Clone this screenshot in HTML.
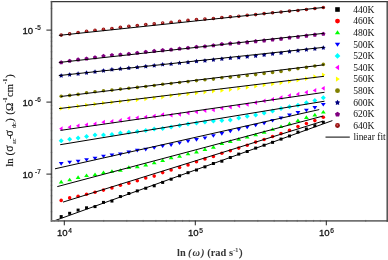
<!DOCTYPE html>
<html><head><meta charset="utf-8"><style>html,body{margin:0;padding:0;background:#fff;width:388px;height:260px;overflow:hidden}svg{display:block;filter:blur(0.3px)}</style></head><body>
<svg width="388" height="260" viewBox="0 0 388 260">
<defs><radialGradient id="sph" cx="0.45" cy="0.4" r="0.62"><stop offset="0" stop-color="#d89090"/><stop offset="0.35" stop-color="#a81818"/><stop offset="1" stop-color="#780000"/></radialGradient></defs>
<rect width="388" height="260" fill="#fff"/>
<rect x="59.70" y="215.10" width="3.00" height="3.00" fill="#000000"/>
<rect x="68.16" y="211.80" width="3.00" height="3.00" fill="#000000"/>
<rect x="76.61" y="208.60" width="3.00" height="3.00" fill="#000000"/>
<rect x="85.06" y="206.30" width="3.00" height="3.00" fill="#000000"/>
<rect x="93.52" y="205.10" width="3.00" height="3.00" fill="#000000"/>
<rect x="101.97" y="200.90" width="3.00" height="3.00" fill="#000000"/>
<rect x="110.43" y="199.55" width="3.00" height="3.00" fill="#000000"/>
<rect x="118.89" y="195.05" width="3.00" height="3.00" fill="#000000"/>
<rect x="127.34" y="192.00" width="3.00" height="3.00" fill="#000000"/>
<rect x="135.80" y="189.40" width="3.00" height="3.00" fill="#000000"/>
<rect x="144.25" y="186.75" width="3.00" height="3.00" fill="#000000"/>
<rect x="152.70" y="184.30" width="3.00" height="3.00" fill="#000000"/>
<rect x="161.16" y="180.90" width="3.00" height="3.00" fill="#000000"/>
<rect x="169.62" y="177.70" width="3.00" height="3.00" fill="#000000"/>
<rect x="178.07" y="174.30" width="3.00" height="3.00" fill="#000000"/>
<rect x="186.53" y="171.20" width="3.00" height="3.00" fill="#000000"/>
<rect x="194.98" y="168.50" width="3.00" height="3.00" fill="#000000"/>
<rect x="203.44" y="165.35" width="3.00" height="3.00" fill="#000000"/>
<rect x="211.89" y="162.00" width="3.00" height="3.00" fill="#000000"/>
<rect x="220.35" y="159.70" width="3.00" height="3.00" fill="#000000"/>
<rect x="228.80" y="156.00" width="3.00" height="3.00" fill="#000000"/>
<rect x="237.25" y="152.60" width="3.00" height="3.00" fill="#000000"/>
<rect x="245.71" y="150.00" width="3.00" height="3.00" fill="#000000"/>
<rect x="254.17" y="146.60" width="3.00" height="3.00" fill="#000000"/>
<rect x="262.62" y="143.70" width="3.00" height="3.00" fill="#000000"/>
<rect x="271.07" y="140.85" width="3.00" height="3.00" fill="#000000"/>
<rect x="279.53" y="137.60" width="3.00" height="3.00" fill="#000000"/>
<rect x="287.99" y="134.50" width="3.00" height="3.00" fill="#000000"/>
<rect x="296.44" y="130.60" width="3.00" height="3.00" fill="#000000"/>
<rect x="304.89" y="127.50" width="3.00" height="3.00" fill="#000000"/>
<rect x="313.35" y="124.20" width="3.00" height="3.00" fill="#000000"/>
<rect x="321.81" y="120.80" width="3.00" height="3.00" fill="#000000"/>
<circle cx="61.20" cy="200.40" r="1.78" fill="#ff0000"/>
<circle cx="69.66" cy="197.90" r="1.78" fill="#ff0000"/>
<circle cx="78.11" cy="196.30" r="1.78" fill="#ff0000"/>
<circle cx="86.56" cy="194.20" r="1.78" fill="#ff0000"/>
<circle cx="95.02" cy="192.30" r="1.78" fill="#ff0000"/>
<circle cx="103.47" cy="190.10" r="1.78" fill="#ff0000"/>
<circle cx="111.93" cy="187.90" r="1.78" fill="#ff0000"/>
<circle cx="120.39" cy="185.30" r="1.78" fill="#ff0000"/>
<circle cx="128.84" cy="183.20" r="1.78" fill="#ff0000"/>
<circle cx="137.30" cy="180.70" r="1.78" fill="#ff0000"/>
<circle cx="145.75" cy="178.05" r="1.78" fill="#ff0000"/>
<circle cx="154.20" cy="176.10" r="1.78" fill="#ff0000"/>
<circle cx="162.66" cy="172.60" r="1.78" fill="#ff0000"/>
<circle cx="171.12" cy="170.00" r="1.78" fill="#ff0000"/>
<circle cx="179.57" cy="167.50" r="1.78" fill="#ff0000"/>
<circle cx="188.03" cy="164.90" r="1.78" fill="#ff0000"/>
<circle cx="196.48" cy="161.75" r="1.78" fill="#ff0000"/>
<circle cx="204.94" cy="158.90" r="1.78" fill="#ff0000"/>
<circle cx="213.39" cy="156.50" r="1.78" fill="#ff0000"/>
<circle cx="221.85" cy="153.20" r="1.78" fill="#ff0000"/>
<circle cx="230.30" cy="150.70" r="1.78" fill="#ff0000"/>
<circle cx="238.75" cy="148.10" r="1.78" fill="#ff0000"/>
<circle cx="247.21" cy="145.20" r="1.78" fill="#ff0000"/>
<circle cx="255.67" cy="142.10" r="1.78" fill="#ff0000"/>
<circle cx="264.12" cy="139.55" r="1.78" fill="#ff0000"/>
<circle cx="272.57" cy="136.55" r="1.78" fill="#ff0000"/>
<circle cx="281.03" cy="133.60" r="1.78" fill="#ff0000"/>
<circle cx="289.49" cy="130.40" r="1.78" fill="#ff0000"/>
<circle cx="297.94" cy="126.50" r="1.78" fill="#ff0000"/>
<circle cx="306.39" cy="123.50" r="1.78" fill="#ff0000"/>
<circle cx="314.85" cy="120.60" r="1.78" fill="#ff0000"/>
<circle cx="323.31" cy="117.20" r="1.78" fill="#ff0000"/>
<path d="M61.20 179.86L63.62 183.43L58.79 183.43Z" fill="#00ff00"/>
<path d="M69.66 177.66L72.07 181.23L67.24 181.23Z" fill="#00ff00"/>
<path d="M78.11 175.36L80.53 178.93L75.69 178.93Z" fill="#00ff00"/>
<path d="M86.56 173.46L88.98 177.03L84.15 177.03Z" fill="#00ff00"/>
<path d="M95.02 172.46L97.44 176.03L92.61 176.03Z" fill="#00ff00"/>
<path d="M103.47 170.46L105.89 174.03L101.06 174.03Z" fill="#00ff00"/>
<path d="M111.93 169.16L114.35 172.73L109.52 172.73Z" fill="#00ff00"/>
<path d="M120.39 168.26L122.80 171.83L117.97 171.83Z" fill="#00ff00"/>
<path d="M128.84 165.36L131.25 168.93L126.42 168.93Z" fill="#00ff00"/>
<path d="M137.30 164.56L139.71 168.13L134.88 168.13Z" fill="#00ff00"/>
<path d="M145.75 162.86L148.16 166.43L143.34 166.43Z" fill="#00ff00"/>
<path d="M154.20 160.66L156.62 164.23L151.79 164.23Z" fill="#00ff00"/>
<path d="M162.66 158.36L165.08 161.93L160.25 161.93Z" fill="#00ff00"/>
<path d="M171.12 155.56L173.53 159.13L168.70 159.13Z" fill="#00ff00"/>
<path d="M179.57 154.06L181.98 157.63L177.16 157.63Z" fill="#00ff00"/>
<path d="M188.03 151.76L190.44 155.33L185.61 155.33Z" fill="#00ff00"/>
<path d="M196.48 149.86L198.90 153.43L194.07 153.43Z" fill="#00ff00"/>
<path d="M204.94 147.36L207.35 150.93L202.52 150.93Z" fill="#00ff00"/>
<path d="M213.39 145.06L215.80 148.63L210.97 148.63Z" fill="#00ff00"/>
<path d="M221.85 141.36L224.26 144.93L219.43 144.93Z" fill="#00ff00"/>
<path d="M230.30 139.36L232.72 142.93L227.89 142.93Z" fill="#00ff00"/>
<path d="M238.75 137.06L241.17 140.63L236.34 140.63Z" fill="#00ff00"/>
<path d="M247.21 134.96L249.62 138.53L244.79 138.53Z" fill="#00ff00"/>
<path d="M255.67 132.76L258.08 136.33L253.25 136.33Z" fill="#00ff00"/>
<path d="M264.12 130.06L266.54 133.63L261.70 133.63Z" fill="#00ff00"/>
<path d="M272.57 127.26L274.99 130.83L270.16 130.83Z" fill="#00ff00"/>
<path d="M281.03 124.46L283.45 128.03L278.62 128.03Z" fill="#00ff00"/>
<path d="M289.49 121.56L291.90 125.13L287.07 125.13Z" fill="#00ff00"/>
<path d="M297.94 118.46L300.36 122.03L295.52 122.03Z" fill="#00ff00"/>
<path d="M306.39 115.36L308.81 118.93L303.98 118.93Z" fill="#00ff00"/>
<path d="M314.85 112.86L317.27 116.43L312.44 116.43Z" fill="#00ff00"/>
<path d="M323.31 109.96L325.72 113.53L320.89 113.53Z" fill="#00ff00"/>
<path d="M61.20 165.64L63.62 162.07L58.79 162.07Z" fill="#0000ff"/>
<path d="M69.66 164.24L72.07 160.67L67.24 160.67Z" fill="#0000ff"/>
<path d="M78.11 163.34L80.53 159.77L75.69 159.77Z" fill="#0000ff"/>
<path d="M86.56 161.74L88.98 158.17L84.15 158.17Z" fill="#0000ff"/>
<path d="M95.02 160.44L97.44 156.87L92.61 156.87Z" fill="#0000ff"/>
<path d="M103.47 158.34L105.89 154.77L101.06 154.77Z" fill="#0000ff"/>
<path d="M111.93 157.04L114.35 153.47L109.52 153.47Z" fill="#0000ff"/>
<path d="M120.39 156.14L122.80 152.57L117.97 152.57Z" fill="#0000ff"/>
<path d="M128.84 154.14L131.25 150.57L126.42 150.57Z" fill="#0000ff"/>
<path d="M137.30 152.44L139.71 148.87L134.88 148.87Z" fill="#0000ff"/>
<path d="M145.75 151.44L148.16 147.87L143.34 147.87Z" fill="#0000ff"/>
<path d="M154.20 149.74L156.62 146.17L151.79 146.17Z" fill="#0000ff"/>
<path d="M162.66 148.04L165.08 144.47L160.25 144.47Z" fill="#0000ff"/>
<path d="M171.12 146.94L173.53 143.37L168.70 143.37Z" fill="#0000ff"/>
<path d="M179.57 145.04L181.98 141.47L177.16 141.47Z" fill="#0000ff"/>
<path d="M188.03 143.14L190.44 139.57L185.61 139.57Z" fill="#0000ff"/>
<path d="M196.48 141.64L198.90 138.07L194.07 138.07Z" fill="#0000ff"/>
<path d="M204.94 140.04L207.35 136.47L202.52 136.47Z" fill="#0000ff"/>
<path d="M213.39 137.74L215.80 134.17L210.97 134.17Z" fill="#0000ff"/>
<path d="M221.85 135.64L224.26 132.07L219.43 132.07Z" fill="#0000ff"/>
<path d="M230.30 133.24L232.72 129.67L227.89 129.67Z" fill="#0000ff"/>
<path d="M238.75 131.44L241.17 127.87L236.34 127.87Z" fill="#0000ff"/>
<path d="M247.21 129.34L249.62 125.77L244.79 125.77Z" fill="#0000ff"/>
<path d="M255.67 127.34L258.08 123.77L253.25 123.77Z" fill="#0000ff"/>
<path d="M264.12 125.24L266.54 121.67L261.70 121.67Z" fill="#0000ff"/>
<path d="M272.57 122.54L274.99 118.97L270.16 118.97Z" fill="#0000ff"/>
<path d="M281.03 120.04L283.45 116.47L278.62 116.47Z" fill="#0000ff"/>
<path d="M289.49 117.14L291.90 113.57L287.07 113.57Z" fill="#0000ff"/>
<path d="M297.94 114.64L300.36 111.07L295.52 111.07Z" fill="#0000ff"/>
<path d="M306.39 112.34L308.81 108.77L303.98 108.77Z" fill="#0000ff"/>
<path d="M314.85 109.64L317.27 106.07L312.44 106.07Z" fill="#0000ff"/>
<path d="M323.31 106.54L325.72 102.97L320.89 102.97Z" fill="#0000ff"/>
<path d="M61.20 138.32L63.68 140.80L61.20 143.28L58.72 140.80Z" fill="#00ffff"/>
<path d="M69.66 136.82L72.14 139.30L69.66 141.78L67.17 139.30Z" fill="#00ffff"/>
<path d="M78.11 135.42L80.59 137.90L78.11 140.38L75.63 137.90Z" fill="#00ffff"/>
<path d="M86.56 133.92L89.05 136.40L86.56 138.88L84.08 136.40Z" fill="#00ffff"/>
<path d="M95.02 132.52L97.50 135.00L95.02 137.48L92.54 135.00Z" fill="#00ffff"/>
<path d="M103.47 132.52L105.95 135.00L103.47 137.48L100.99 135.00Z" fill="#00ffff"/>
<path d="M111.93 132.02L114.41 134.50L111.93 136.98L109.45 134.50Z" fill="#00ffff"/>
<path d="M120.39 130.62L122.87 133.10L120.39 135.58L117.91 133.10Z" fill="#00ffff"/>
<path d="M128.84 129.72L131.32 132.20L128.84 134.68L126.36 132.20Z" fill="#00ffff"/>
<path d="M137.30 129.12L139.78 131.60L137.30 134.08L134.82 131.60Z" fill="#00ffff"/>
<path d="M145.75 128.02L148.23 130.50L145.75 132.98L143.27 130.50Z" fill="#00ffff"/>
<path d="M154.20 126.52L156.68 129.00L154.20 131.48L151.72 129.00Z" fill="#00ffff"/>
<path d="M162.66 126.02L165.14 128.50L162.66 130.98L160.18 128.50Z" fill="#00ffff"/>
<path d="M171.12 124.52L173.59 127.00L171.12 129.48L168.64 127.00Z" fill="#00ffff"/>
<path d="M179.57 122.92L182.05 125.40L179.57 127.88L177.09 125.40Z" fill="#00ffff"/>
<path d="M188.03 121.62L190.50 124.10L188.03 126.58L185.55 124.10Z" fill="#00ffff"/>
<path d="M196.48 120.62L198.96 123.10L196.48 125.58L194.00 123.10Z" fill="#00ffff"/>
<path d="M204.94 119.52L207.41 122.00L204.94 124.48L202.46 122.00Z" fill="#00ffff"/>
<path d="M213.39 118.52L215.87 121.00L213.39 123.48L210.91 121.00Z" fill="#00ffff"/>
<path d="M221.85 117.92L224.33 120.40L221.85 122.88L219.37 120.40Z" fill="#00ffff"/>
<path d="M230.30 117.62L232.78 120.10L230.30 122.58L227.82 120.10Z" fill="#00ffff"/>
<path d="M238.75 115.42L241.23 117.90L238.75 120.38L236.28 117.90Z" fill="#00ffff"/>
<path d="M247.21 113.72L249.69 116.20L247.21 118.68L244.73 116.20Z" fill="#00ffff"/>
<path d="M255.67 112.52L258.15 115.00L255.67 117.48L253.19 115.00Z" fill="#00ffff"/>
<path d="M264.12 110.62L266.60 113.10L264.12 115.58L261.64 113.10Z" fill="#00ffff"/>
<path d="M272.57 108.62L275.06 111.10L272.57 113.58L270.09 111.10Z" fill="#00ffff"/>
<path d="M281.03 106.02L283.51 108.50L281.03 110.98L278.55 108.50Z" fill="#00ffff"/>
<path d="M289.49 104.22L291.97 106.70L289.49 109.18L287.00 106.70Z" fill="#00ffff"/>
<path d="M297.94 102.72L300.42 105.20L297.94 107.68L295.46 105.20Z" fill="#00ffff"/>
<path d="M306.39 100.22L308.88 102.70L306.39 105.18L303.91 102.70Z" fill="#00ffff"/>
<path d="M314.85 97.92L317.33 100.40L314.85 102.88L312.37 100.40Z" fill="#00ffff"/>
<path d="M323.31 95.22L325.79 97.70L323.31 100.18L320.82 97.70Z" fill="#00ffff"/>
<path d="M59.11 128.70L62.59 126.34L62.59 131.06Z" fill="#ff00ff"/>
<path d="M67.56 127.20L71.05 124.84L71.05 129.56Z" fill="#ff00ff"/>
<path d="M76.02 125.80L79.50 123.44L79.50 128.16Z" fill="#ff00ff"/>
<path d="M84.47 124.80L87.96 122.44L87.96 127.16Z" fill="#ff00ff"/>
<path d="M92.93 123.90L96.41 121.54L96.41 126.26Z" fill="#ff00ff"/>
<path d="M101.38 122.20L104.87 119.84L104.87 124.56Z" fill="#ff00ff"/>
<path d="M109.84 121.40L113.32 119.04L113.32 123.76Z" fill="#ff00ff"/>
<path d="M118.29 120.40L121.78 118.04L121.78 122.76Z" fill="#ff00ff"/>
<path d="M126.75 118.30L130.23 115.94L130.23 120.66Z" fill="#ff00ff"/>
<path d="M135.20 117.80L138.69 115.44L138.69 120.16Z" fill="#ff00ff"/>
<path d="M143.66 117.00L147.14 114.64L147.14 119.36Z" fill="#ff00ff"/>
<path d="M152.11 116.10L155.60 113.74L155.60 118.46Z" fill="#ff00ff"/>
<path d="M160.57 114.60L164.05 112.24L164.05 116.96Z" fill="#ff00ff"/>
<path d="M169.02 115.20L172.51 112.84L172.51 117.56Z" fill="#ff00ff"/>
<path d="M177.48 114.30L180.96 111.94L180.96 116.66Z" fill="#ff00ff"/>
<path d="M185.93 112.90L189.42 110.54L189.42 115.26Z" fill="#ff00ff"/>
<path d="M194.39 112.00L197.87 109.64L197.87 114.36Z" fill="#ff00ff"/>
<path d="M202.84 110.60L206.33 108.24L206.33 112.96Z" fill="#ff00ff"/>
<path d="M211.30 110.00L214.78 107.64L214.78 112.36Z" fill="#ff00ff"/>
<path d="M219.75 108.25L223.24 105.89L223.24 110.61Z" fill="#ff00ff"/>
<path d="M228.21 107.10L231.69 104.74L231.69 109.46Z" fill="#ff00ff"/>
<path d="M236.66 105.85L240.15 103.49L240.15 108.21Z" fill="#ff00ff"/>
<path d="M245.12 104.50L248.60 102.14L248.60 106.86Z" fill="#ff00ff"/>
<path d="M253.57 102.65L257.06 100.29L257.06 105.01Z" fill="#ff00ff"/>
<path d="M262.03 100.95L265.51 98.59L265.51 103.31Z" fill="#ff00ff"/>
<path d="M270.48 99.30L273.97 96.94L273.97 101.66Z" fill="#ff00ff"/>
<path d="M278.94 97.60L282.42 95.24L282.42 99.96Z" fill="#ff00ff"/>
<path d="M287.39 95.60L290.88 93.24L290.88 97.96Z" fill="#ff00ff"/>
<path d="M295.85 94.20L299.33 91.84L299.33 96.56Z" fill="#ff00ff"/>
<path d="M304.30 92.30L307.79 89.94L307.79 94.66Z" fill="#ff00ff"/>
<path d="M312.76 90.40L316.24 88.04L316.24 92.76Z" fill="#ff00ff"/>
<path d="M321.21 88.30L324.70 85.94L324.70 90.66Z" fill="#ff00ff"/>
<path d="M63.29 108.50L59.81 106.14L59.81 110.86Z" fill="#ffff00"/>
<path d="M71.75 107.50L68.26 105.14L68.26 109.86Z" fill="#ffff00"/>
<path d="M80.20 106.20L76.72 103.84L76.72 108.56Z" fill="#ffff00"/>
<path d="M88.66 105.00L85.17 102.64L85.17 107.36Z" fill="#ffff00"/>
<path d="M97.11 104.10L93.63 101.74L93.63 106.46Z" fill="#ffff00"/>
<path d="M105.57 103.00L102.08 100.64L102.08 105.36Z" fill="#ffff00"/>
<path d="M114.02 102.30L110.54 99.94L110.54 104.66Z" fill="#ffff00"/>
<path d="M122.48 101.60L118.99 99.24L118.99 103.96Z" fill="#ffff00"/>
<path d="M130.93 100.60L127.45 98.24L127.45 102.96Z" fill="#ffff00"/>
<path d="M139.39 99.80L135.90 97.44L135.90 102.16Z" fill="#ffff00"/>
<path d="M147.84 98.90L144.36 96.54L144.36 101.26Z" fill="#ffff00"/>
<path d="M156.30 97.90L152.81 95.54L152.81 100.26Z" fill="#ffff00"/>
<path d="M164.75 97.10L161.27 94.74L161.27 99.46Z" fill="#ffff00"/>
<path d="M173.21 95.60L169.72 93.24L169.72 97.96Z" fill="#ffff00"/>
<path d="M181.66 94.75L178.18 92.39L178.18 97.11Z" fill="#ffff00"/>
<path d="M190.12 93.90L186.63 91.54L186.63 96.26Z" fill="#ffff00"/>
<path d="M198.57 92.90L195.09 90.54L195.09 95.26Z" fill="#ffff00"/>
<path d="M207.03 92.05L203.54 89.69L203.54 94.41Z" fill="#ffff00"/>
<path d="M215.48 91.10L212.00 88.74L212.00 93.46Z" fill="#ffff00"/>
<path d="M223.94 90.40L220.45 88.04L220.45 92.76Z" fill="#ffff00"/>
<path d="M232.39 89.60L228.91 87.24L228.91 91.96Z" fill="#ffff00"/>
<path d="M240.85 88.40L237.36 86.04L237.36 90.76Z" fill="#ffff00"/>
<path d="M249.30 87.30L245.82 84.94L245.82 89.66Z" fill="#ffff00"/>
<path d="M257.76 86.20L254.27 83.84L254.27 88.56Z" fill="#ffff00"/>
<path d="M266.21 85.00L262.73 82.64L262.73 87.36Z" fill="#ffff00"/>
<path d="M274.67 83.90L271.18 81.54L271.18 86.26Z" fill="#ffff00"/>
<path d="M283.12 82.80L279.64 80.44L279.64 85.16Z" fill="#ffff00"/>
<path d="M291.58 81.50L288.09 79.14L288.09 83.86Z" fill="#ffff00"/>
<path d="M300.03 80.20L296.55 77.84L296.55 82.56Z" fill="#ffff00"/>
<path d="M308.49 78.70L305.00 76.34L305.00 81.06Z" fill="#ffff00"/>
<path d="M316.94 76.70L313.46 74.34L313.46 79.06Z" fill="#ffff00"/>
<path d="M325.40 74.80L321.91 72.44L321.91 77.16Z" fill="#ffff00"/>
<circle cx="61.20" cy="96.20" r="1.78" fill="#808000"/>
<circle cx="69.66" cy="95.40" r="1.78" fill="#808000"/>
<circle cx="78.11" cy="94.40" r="1.78" fill="#808000"/>
<circle cx="86.56" cy="92.70" r="1.78" fill="#808000"/>
<circle cx="95.02" cy="91.70" r="1.78" fill="#808000"/>
<circle cx="103.47" cy="90.80" r="1.78" fill="#808000"/>
<circle cx="111.93" cy="90.10" r="1.78" fill="#808000"/>
<circle cx="120.39" cy="89.10" r="1.78" fill="#808000"/>
<circle cx="128.84" cy="88.20" r="1.78" fill="#808000"/>
<circle cx="137.30" cy="87.40" r="1.78" fill="#808000"/>
<circle cx="145.75" cy="86.50" r="1.78" fill="#808000"/>
<circle cx="154.20" cy="85.50" r="1.78" fill="#808000"/>
<circle cx="162.66" cy="84.30" r="1.78" fill="#808000"/>
<circle cx="171.12" cy="83.50" r="1.78" fill="#808000"/>
<circle cx="179.57" cy="82.50" r="1.78" fill="#808000"/>
<circle cx="188.03" cy="81.60" r="1.78" fill="#808000"/>
<circle cx="196.48" cy="80.60" r="1.78" fill="#808000"/>
<circle cx="204.94" cy="79.80" r="1.78" fill="#808000"/>
<circle cx="213.39" cy="79.10" r="1.78" fill="#808000"/>
<circle cx="221.85" cy="77.70" r="1.78" fill="#808000"/>
<circle cx="230.30" cy="77.15" r="1.78" fill="#808000"/>
<circle cx="238.75" cy="76.40" r="1.78" fill="#808000"/>
<circle cx="247.21" cy="75.45" r="1.78" fill="#808000"/>
<circle cx="255.67" cy="74.60" r="1.78" fill="#808000"/>
<circle cx="264.12" cy="73.40" r="1.78" fill="#808000"/>
<circle cx="272.57" cy="72.40" r="1.78" fill="#808000"/>
<circle cx="281.03" cy="71.40" r="1.78" fill="#808000"/>
<circle cx="289.49" cy="69.80" r="1.78" fill="#808000"/>
<circle cx="297.94" cy="68.60" r="1.78" fill="#808000"/>
<circle cx="306.39" cy="67.40" r="1.78" fill="#808000"/>
<circle cx="314.85" cy="66.00" r="1.78" fill="#808000"/>
<circle cx="323.31" cy="64.40" r="1.78" fill="#808000"/>
<path d="M61.20 73.22L62.00 74.60L63.56 74.93L62.50 76.12L62.66 77.71L61.20 77.06L59.74 77.71L59.90 76.12L58.84 74.93L60.40 74.60Z" fill="#000080"/>
<path d="M69.66 72.22L70.46 73.60L72.01 73.93L70.95 75.12L71.11 76.71L69.66 76.06L68.20 76.71L68.36 75.12L67.30 73.93L68.85 73.60Z" fill="#000080"/>
<path d="M78.11 71.32L78.91 72.70L80.47 73.03L79.41 74.22L79.57 75.81L78.11 75.16L76.65 75.81L76.81 74.22L75.75 73.03L77.31 72.70Z" fill="#000080"/>
<path d="M86.56 70.32L87.37 71.70L88.92 72.03L87.86 73.22L88.02 74.81L86.56 74.16L85.11 74.81L85.27 73.22L84.21 72.03L85.76 71.70Z" fill="#000080"/>
<path d="M95.02 69.32L95.82 70.70L97.38 71.03L96.32 72.22L96.48 73.81L95.02 73.16L93.56 73.81L93.72 72.22L92.66 71.03L94.22 70.70Z" fill="#000080"/>
<path d="M103.47 68.22L104.28 69.60L105.83 69.93L104.77 71.12L104.93 72.71L103.47 72.06L102.02 72.71L102.18 71.12L101.12 69.93L102.67 69.60Z" fill="#000080"/>
<path d="M111.93 67.12L112.73 68.50L114.29 68.83L113.23 70.02L113.39 71.61L111.93 70.96L110.47 71.61L110.63 70.02L109.57 68.83L111.13 68.50Z" fill="#000080"/>
<path d="M120.39 66.32L121.19 67.70L122.74 68.03L121.68 69.22L121.84 70.81L120.39 70.16L118.93 70.81L119.09 69.22L118.03 68.03L119.58 67.70Z" fill="#000080"/>
<path d="M128.84 65.62L129.64 67.00L131.20 67.33L130.14 68.52L130.30 70.11L128.84 69.46L127.38 70.11L127.54 68.52L126.48 67.33L128.04 67.00Z" fill="#000080"/>
<path d="M137.30 64.82L138.10 66.20L139.65 66.53L138.59 67.72L138.75 69.31L137.30 68.66L135.84 69.31L136.00 67.72L134.94 66.53L136.49 66.20Z" fill="#000080"/>
<path d="M145.75 63.92L146.55 65.30L148.11 65.63L147.05 66.82L147.21 68.41L145.75 67.76L144.29 68.41L144.45 66.82L143.39 65.63L144.95 65.30Z" fill="#000080"/>
<path d="M154.20 63.12L155.01 64.50L156.56 64.83L155.50 66.02L155.66 67.61L154.20 66.96L152.75 67.61L152.91 66.02L151.85 64.83L153.40 64.50Z" fill="#000080"/>
<path d="M162.66 62.02L163.46 63.40L165.02 63.73L163.96 64.92L164.12 66.51L162.66 65.86L161.20 66.51L161.36 64.92L160.30 63.73L161.86 63.40Z" fill="#000080"/>
<path d="M171.12 61.52L171.92 62.90L173.47 63.23L172.41 64.42L172.57 66.01L171.12 65.36L169.66 66.01L169.82 64.42L168.76 63.23L170.31 62.90Z" fill="#000080"/>
<path d="M179.57 60.52L180.37 61.90L181.93 62.23L180.87 63.42L181.03 65.01L179.57 64.36L178.11 65.01L178.27 63.42L177.21 62.23L178.77 61.90Z" fill="#000080"/>
<path d="M188.03 59.82L188.83 61.20L190.38 61.53L189.32 62.72L189.48 64.31L188.03 63.66L186.57 64.31L186.73 62.72L185.67 61.53L187.22 61.20Z" fill="#000080"/>
<path d="M196.48 58.82L197.28 60.20L198.84 60.53L197.78 61.72L197.94 63.31L196.48 62.66L195.02 63.31L195.18 61.72L194.12 60.53L195.68 60.20Z" fill="#000080"/>
<path d="M204.94 58.22L205.74 59.60L207.29 59.93L206.23 61.12L206.39 62.71L204.94 62.06L203.48 62.71L203.64 61.12L202.58 59.93L204.13 59.60Z" fill="#000080"/>
<path d="M213.39 57.32L214.19 58.70L215.75 59.03L214.69 60.22L214.85 61.81L213.39 61.16L211.93 61.81L212.09 60.22L211.03 59.03L212.59 58.70Z" fill="#000080"/>
<path d="M221.85 56.42L222.65 57.80L224.20 58.13L223.14 59.32L223.30 60.91L221.85 60.26L220.39 60.91L220.55 59.32L219.49 58.13L221.04 57.80Z" fill="#000080"/>
<path d="M230.30 55.62L231.10 57.00L232.66 57.33L231.60 58.52L231.76 60.11L230.30 59.46L228.84 60.11L229.00 58.52L227.94 57.33L229.50 57.00Z" fill="#000080"/>
<path d="M238.75 55.12L239.56 56.50L241.11 56.83L240.05 58.02L240.21 59.61L238.75 58.96L237.30 59.61L237.46 58.02L236.40 56.83L237.95 56.50Z" fill="#000080"/>
<path d="M247.21 54.22L248.01 55.60L249.57 55.93L248.51 57.12L248.67 58.71L247.21 58.06L245.75 58.71L245.91 57.12L244.85 55.93L246.41 55.60Z" fill="#000080"/>
<path d="M255.67 53.42L256.47 54.80L258.02 55.13L256.96 56.32L257.12 57.91L255.67 57.26L254.21 57.91L254.37 56.32L253.31 55.13L254.86 54.80Z" fill="#000080"/>
<path d="M264.12 52.52L264.92 53.90L266.48 54.23L265.42 55.42L265.58 57.01L264.12 56.36L262.66 57.01L262.82 55.42L261.76 54.23L263.32 53.90Z" fill="#000080"/>
<path d="M272.57 51.32L273.38 52.70L274.93 53.03L273.87 54.22L274.03 55.81L272.57 55.16L271.12 55.81L271.28 54.22L270.22 53.03L271.77 52.70Z" fill="#000080"/>
<path d="M281.03 50.52L281.83 51.90L283.39 52.23L282.33 53.42L282.49 55.01L281.03 54.36L279.57 55.01L279.73 53.42L278.67 52.23L280.23 51.90Z" fill="#000080"/>
<path d="M289.49 49.12L290.29 50.50L291.84 50.83L290.78 52.02L290.94 53.61L289.49 52.96L288.03 53.61L288.19 52.02L287.13 50.83L288.68 50.50Z" fill="#000080"/>
<path d="M297.94 48.22L298.74 49.60L300.30 49.93L299.24 51.12L299.40 52.71L297.94 52.06L296.48 52.71L296.64 51.12L295.58 49.93L297.14 49.60Z" fill="#000080"/>
<path d="M306.39 47.22L307.20 48.60L308.75 48.93L307.69 50.12L307.85 51.71L306.39 51.06L304.94 51.71L305.10 50.12L304.04 48.93L305.59 48.60Z" fill="#000080"/>
<path d="M314.85 46.32L315.65 47.70L317.21 48.03L316.15 49.22L316.31 50.81L314.85 50.16L313.39 50.81L313.55 49.22L312.49 48.03L314.05 47.70Z" fill="#000080"/>
<path d="M323.31 45.32L324.11 46.70L325.66 47.03L324.60 48.22L324.76 49.81L323.31 49.16L321.85 49.81L322.01 48.22L320.95 47.03L322.50 46.70Z" fill="#000080"/>
<path d="M61.20 60.24L63.35 61.80L62.53 64.33L59.87 64.33L59.05 61.80Z" fill="#800080"/>
<path d="M69.66 58.74L71.81 60.30L70.98 62.83L68.33 62.83L67.50 60.30Z" fill="#800080"/>
<path d="M78.11 57.34L80.26 58.90L79.44 61.43L76.78 61.43L75.96 58.90Z" fill="#800080"/>
<path d="M86.56 56.44L88.72 58.00L87.89 60.53L85.24 60.53L84.41 58.00Z" fill="#800080"/>
<path d="M95.02 55.24L97.17 56.80L96.35 59.33L93.69 59.33L92.87 56.80Z" fill="#800080"/>
<path d="M103.47 53.84L105.63 55.40L104.80 57.93L102.15 57.93L101.32 55.40Z" fill="#800080"/>
<path d="M111.93 52.94L114.08 54.50L113.26 57.03L110.60 57.03L109.78 54.50Z" fill="#800080"/>
<path d="M120.39 52.44L122.54 54.00L121.71 56.53L119.06 56.53L118.23 54.00Z" fill="#800080"/>
<path d="M128.84 51.64L130.99 53.20L130.17 55.73L127.51 55.73L126.69 53.20Z" fill="#800080"/>
<path d="M137.30 50.74L139.45 52.30L138.62 54.83L135.97 54.83L135.14 52.30Z" fill="#800080"/>
<path d="M145.75 49.74L147.90 51.30L147.08 53.83L144.42 53.83L143.60 51.30Z" fill="#800080"/>
<path d="M154.20 48.84L156.36 50.40L155.53 52.93L152.88 52.93L152.05 50.40Z" fill="#800080"/>
<path d="M162.66 48.04L164.81 49.60L163.99 52.13L161.33 52.13L160.51 49.60Z" fill="#800080"/>
<path d="M171.12 47.44L173.27 49.00L172.44 51.53L169.79 51.53L168.96 49.00Z" fill="#800080"/>
<path d="M179.57 46.44L181.72 48.00L180.90 50.53L178.24 50.53L177.42 48.00Z" fill="#800080"/>
<path d="M188.03 45.64L190.18 47.20L189.35 49.73L186.70 49.73L185.87 47.20Z" fill="#800080"/>
<path d="M196.48 44.74L198.63 46.30L197.81 48.83L195.15 48.83L194.33 46.30Z" fill="#800080"/>
<path d="M204.94 44.14L207.09 45.70L206.26 48.23L203.61 48.23L202.78 45.70Z" fill="#800080"/>
<path d="M213.39 43.14L215.54 44.70L214.72 47.23L212.06 47.23L211.24 44.70Z" fill="#800080"/>
<path d="M221.85 41.99L224.00 43.55L223.17 46.08L220.52 46.08L219.69 43.55Z" fill="#800080"/>
<path d="M230.30 41.29L232.45 42.85L231.63 45.38L228.97 45.38L228.15 42.85Z" fill="#800080"/>
<path d="M238.75 40.69L240.91 42.25L240.08 44.78L237.43 44.78L236.60 42.25Z" fill="#800080"/>
<path d="M247.21 40.04L249.36 41.60L248.54 44.13L245.88 44.13L245.06 41.60Z" fill="#800080"/>
<path d="M255.67 39.09L257.82 40.65L256.99 43.18L254.34 43.18L253.51 40.65Z" fill="#800080"/>
<path d="M264.12 38.34L266.27 39.90L265.45 42.43L262.79 42.43L261.97 39.90Z" fill="#800080"/>
<path d="M272.57 37.49L274.73 39.05L273.90 41.58L271.25 41.58L270.42 39.05Z" fill="#800080"/>
<path d="M281.03 36.59L283.18 38.15L282.36 40.68L279.70 40.68L278.88 38.15Z" fill="#800080"/>
<path d="M289.49 35.44L291.64 37.00L290.81 39.53L288.16 39.53L287.33 37.00Z" fill="#800080"/>
<path d="M297.94 34.64L300.09 36.20L299.27 38.73L296.61 38.73L295.79 36.20Z" fill="#800080"/>
<path d="M306.39 33.54L308.55 35.10L307.72 37.63L305.07 37.63L304.24 35.10Z" fill="#800080"/>
<path d="M314.85 32.54L317.00 34.10L316.18 36.63L313.52 36.63L312.70 34.10Z" fill="#800080"/>
<path d="M323.31 31.64L325.46 33.20L324.63 35.73L321.98 35.73L321.15 33.20Z" fill="#800080"/>
<circle cx="61.20" cy="35.10" r="1.78" fill="url(#sph)"/>
<circle cx="69.66" cy="33.90" r="1.78" fill="url(#sph)"/>
<circle cx="78.11" cy="32.50" r="1.78" fill="url(#sph)"/>
<circle cx="86.56" cy="31.30" r="1.78" fill="url(#sph)"/>
<circle cx="95.02" cy="30.30" r="1.78" fill="url(#sph)"/>
<circle cx="103.47" cy="29.35" r="1.78" fill="url(#sph)"/>
<circle cx="111.93" cy="28.45" r="1.78" fill="url(#sph)"/>
<circle cx="120.39" cy="27.35" r="1.78" fill="url(#sph)"/>
<circle cx="128.84" cy="26.35" r="1.78" fill="url(#sph)"/>
<circle cx="137.30" cy="25.55" r="1.78" fill="url(#sph)"/>
<circle cx="145.75" cy="24.50" r="1.78" fill="url(#sph)"/>
<circle cx="154.20" cy="23.90" r="1.78" fill="url(#sph)"/>
<circle cx="162.66" cy="23.00" r="1.78" fill="url(#sph)"/>
<circle cx="171.12" cy="22.30" r="1.78" fill="url(#sph)"/>
<circle cx="179.57" cy="21.40" r="1.78" fill="url(#sph)"/>
<circle cx="188.03" cy="20.40" r="1.78" fill="url(#sph)"/>
<circle cx="196.48" cy="19.50" r="1.78" fill="url(#sph)"/>
<circle cx="204.94" cy="19.10" r="1.78" fill="url(#sph)"/>
<circle cx="213.39" cy="18.50" r="1.78" fill="url(#sph)"/>
<circle cx="221.85" cy="17.50" r="1.78" fill="url(#sph)"/>
<circle cx="230.30" cy="16.70" r="1.78" fill="url(#sph)"/>
<circle cx="238.75" cy="16.20" r="1.78" fill="url(#sph)"/>
<circle cx="247.21" cy="15.30" r="1.78" fill="url(#sph)"/>
<circle cx="255.67" cy="14.60" r="1.78" fill="url(#sph)"/>
<circle cx="264.12" cy="13.60" r="1.78" fill="url(#sph)"/>
<circle cx="272.57" cy="12.80" r="1.78" fill="url(#sph)"/>
<circle cx="281.03" cy="12.00" r="1.78" fill="url(#sph)"/>
<circle cx="289.49" cy="11.10" r="1.78" fill="url(#sph)"/>
<circle cx="297.94" cy="10.45" r="1.78" fill="url(#sph)"/>
<circle cx="306.39" cy="9.50" r="1.78" fill="url(#sph)"/>
<circle cx="314.85" cy="8.55" r="1.78" fill="url(#sph)"/>
<circle cx="323.31" cy="7.50" r="1.78" fill="url(#sph)"/>
<line x1="53.8" y1="221" x2="332.4" y2="120.6" stroke="#000" stroke-width="1"/>
<line x1="63" y1="202.1" x2="323.1" y2="121.1" stroke="#000" stroke-width="1"/>
<line x1="57.3" y1="186.6" x2="323.1" y2="116" stroke="#000" stroke-width="1"/>
<line x1="55" y1="168.8" x2="319.2" y2="109.6" stroke="#000" stroke-width="1"/>
<line x1="60.2" y1="144.7" x2="324.5" y2="101.2" stroke="#000" stroke-width="1"/>
<line x1="60.4" y1="130.4" x2="324.5" y2="92.3" stroke="#000" stroke-width="1"/>
<line x1="59.0" y1="108.6" x2="324" y2="76.3" stroke="#000" stroke-width="1"/>
<line x1="60.8" y1="96.5" x2="324" y2="64.8" stroke="#000" stroke-width="1"/>
<line x1="58.8" y1="75.6" x2="324" y2="47.3" stroke="#000" stroke-width="1"/>
<line x1="58.8" y1="62.5" x2="324" y2="33.3" stroke="#000" stroke-width="1"/>
<line x1="58.9" y1="35.4" x2="324" y2="7.4" stroke="#000" stroke-width="1"/>
<line x1="50.8" y1="1.55" x2="388" y2="1.55" stroke="#383838" stroke-width="1.3"/>
<line x1="51.5" y1="0.9" x2="51.5" y2="221.8" stroke="#555" stroke-width="1.6"/>
<line x1="50.8" y1="220.85" x2="388" y2="220.85" stroke="#727272" stroke-width="1.85"/>
<line x1="387.2" y1="0.9" x2="387.2" y2="221.8" stroke="#444" stroke-width="1.4"/>
<line x1="64.30" y1="220.6" x2="64.30" y2="225.3" stroke="#222" stroke-width="1"/>
<line x1="195.30" y1="220.6" x2="195.30" y2="225.3" stroke="#222" stroke-width="1"/>
<line x1="326.30" y1="220.6" x2="326.30" y2="225.3" stroke="#222" stroke-width="1"/>
<line x1="58.31" y1="219.9" x2="58.31" y2="221.9" stroke="#505050" stroke-width="0.5"/>
<line x1="103.73" y1="219.9" x2="103.73" y2="221.9" stroke="#505050" stroke-width="0.5"/>
<line x1="126.80" y1="219.9" x2="126.80" y2="221.9" stroke="#505050" stroke-width="0.5"/>
<line x1="143.17" y1="219.9" x2="143.17" y2="221.9" stroke="#505050" stroke-width="0.5"/>
<line x1="155.87" y1="219.9" x2="155.87" y2="221.9" stroke="#505050" stroke-width="0.5"/>
<line x1="166.24" y1="219.9" x2="166.24" y2="221.9" stroke="#505050" stroke-width="0.5"/>
<line x1="175.01" y1="219.9" x2="175.01" y2="221.9" stroke="#505050" stroke-width="0.5"/>
<line x1="182.60" y1="219.9" x2="182.60" y2="221.9" stroke="#505050" stroke-width="0.5"/>
<line x1="189.31" y1="219.9" x2="189.31" y2="221.9" stroke="#505050" stroke-width="0.5"/>
<line x1="234.73" y1="219.9" x2="234.73" y2="221.9" stroke="#505050" stroke-width="0.5"/>
<line x1="257.80" y1="219.9" x2="257.80" y2="221.9" stroke="#505050" stroke-width="0.5"/>
<line x1="274.17" y1="219.9" x2="274.17" y2="221.9" stroke="#505050" stroke-width="0.5"/>
<line x1="286.87" y1="219.9" x2="286.87" y2="221.9" stroke="#505050" stroke-width="0.5"/>
<line x1="297.24" y1="219.9" x2="297.24" y2="221.9" stroke="#505050" stroke-width="0.5"/>
<line x1="306.01" y1="219.9" x2="306.01" y2="221.9" stroke="#505050" stroke-width="0.5"/>
<line x1="313.60" y1="219.9" x2="313.60" y2="221.9" stroke="#505050" stroke-width="0.5"/>
<line x1="320.31" y1="219.9" x2="320.31" y2="221.9" stroke="#505050" stroke-width="0.5"/>
<line x1="365.73" y1="219.9" x2="365.73" y2="221.9" stroke="#505050" stroke-width="0.5"/>
<line x1="46.4" y1="30.10" x2="51.6" y2="30.10" stroke="#222" stroke-width="1"/>
<line x1="46.4" y1="102.10" x2="51.6" y2="102.10" stroke="#222" stroke-width="1"/>
<line x1="46.4" y1="174.10" x2="51.6" y2="174.10" stroke="#222" stroke-width="1"/>
<line x1="50.7" y1="211.75" x2="52.3" y2="211.75" stroke="#505050" stroke-width="0.5"/>
<line x1="50.7" y1="202.75" x2="52.3" y2="202.75" stroke="#505050" stroke-width="0.5"/>
<line x1="50.7" y1="195.77" x2="52.3" y2="195.77" stroke="#505050" stroke-width="0.5"/>
<line x1="50.7" y1="190.07" x2="52.3" y2="190.07" stroke="#505050" stroke-width="0.5"/>
<line x1="50.7" y1="185.25" x2="52.3" y2="185.25" stroke="#505050" stroke-width="0.5"/>
<line x1="50.7" y1="181.08" x2="52.3" y2="181.08" stroke="#505050" stroke-width="0.5"/>
<line x1="50.7" y1="177.39" x2="52.3" y2="177.39" stroke="#505050" stroke-width="0.5"/>
<line x1="50.7" y1="152.43" x2="52.3" y2="152.43" stroke="#505050" stroke-width="0.5"/>
<line x1="50.7" y1="139.75" x2="52.3" y2="139.75" stroke="#505050" stroke-width="0.5"/>
<line x1="50.7" y1="130.75" x2="52.3" y2="130.75" stroke="#505050" stroke-width="0.5"/>
<line x1="50.7" y1="123.77" x2="52.3" y2="123.77" stroke="#505050" stroke-width="0.5"/>
<line x1="50.7" y1="118.07" x2="52.3" y2="118.07" stroke="#505050" stroke-width="0.5"/>
<line x1="50.7" y1="113.25" x2="52.3" y2="113.25" stroke="#505050" stroke-width="0.5"/>
<line x1="50.7" y1="109.08" x2="52.3" y2="109.08" stroke="#505050" stroke-width="0.5"/>
<line x1="50.7" y1="105.39" x2="52.3" y2="105.39" stroke="#505050" stroke-width="0.5"/>
<line x1="50.7" y1="80.43" x2="52.3" y2="80.43" stroke="#505050" stroke-width="0.5"/>
<line x1="50.7" y1="67.75" x2="52.3" y2="67.75" stroke="#505050" stroke-width="0.5"/>
<line x1="50.7" y1="58.75" x2="52.3" y2="58.75" stroke="#505050" stroke-width="0.5"/>
<line x1="50.7" y1="51.77" x2="52.3" y2="51.77" stroke="#505050" stroke-width="0.5"/>
<line x1="50.7" y1="46.07" x2="52.3" y2="46.07" stroke="#505050" stroke-width="0.5"/>
<line x1="50.7" y1="41.25" x2="52.3" y2="41.25" stroke="#505050" stroke-width="0.5"/>
<line x1="50.7" y1="37.08" x2="52.3" y2="37.08" stroke="#505050" stroke-width="0.5"/>
<line x1="50.7" y1="33.39" x2="52.3" y2="33.39" stroke="#505050" stroke-width="0.5"/>
<line x1="50.7" y1="8.43" x2="52.3" y2="8.43" stroke="#505050" stroke-width="0.5"/>
<text x="57.00" y="235.9" font-size="9.6" font-family="Liberation Sans, Arial, sans-serif" fill="#111" stroke="#111" stroke-width="0.3">10<tspan font-size="6.6" dy="-3.1" dx="0.6" stroke-width="0.2">4</tspan></text>
<text x="188.00" y="235.9" font-size="9.6" font-family="Liberation Sans, Arial, sans-serif" fill="#111" stroke="#111" stroke-width="0.3">10<tspan font-size="6.6" dy="-3.1" dx="0.6" stroke-width="0.2">5</tspan></text>
<text x="319.00" y="235.9" font-size="9.6" font-family="Liberation Sans, Arial, sans-serif" fill="#111" stroke="#111" stroke-width="0.3">10<tspan font-size="6.6" dy="-3.1" dx="0.6" stroke-width="0.2">6</tspan></text>
<text x="22.5" y="33.70" font-size="9.6" font-family="Liberation Sans, Arial, sans-serif" fill="#111" stroke="#111" stroke-width="0.3">10<tspan font-size="6.4" dy="-3.3" dx="1.9" stroke-width="0.2">-5</tspan></text>
<text x="22.5" y="105.70" font-size="9.6" font-family="Liberation Sans, Arial, sans-serif" fill="#111" stroke="#111" stroke-width="0.3">10<tspan font-size="6.4" dy="-3.3" dx="1.9" stroke-width="0.2">-6</tspan></text>
<text x="22.5" y="177.70" font-size="9.6" font-family="Liberation Sans, Arial, sans-serif" fill="#111" stroke="#111" stroke-width="0.3">10<tspan font-size="6.4" dy="-3.3" dx="1.9" stroke-width="0.2">-7</tspan></text>
<rect x="335.20" y="7.20" width="4.60" height="4.60" fill="#000000"/>
<text x="353.3" y="12.80" font-size="9.55" font-family="Liberation Serif, serif" fill="#111">440K</text>
<circle cx="337.50" cy="21.10" r="2.42" fill="#ff0000"/>
<text x="353.3" y="24.40" font-size="9.55" font-family="Liberation Serif, serif" fill="#111">460K</text>
<path d="M337.50 30.35L340.14 34.26L334.86 34.26Z" fill="#00ff00"/>
<text x="353.3" y="36.00" font-size="9.55" font-family="Liberation Serif, serif" fill="#111">480K</text>
<path d="M337.50 46.65L340.14 42.74L334.86 42.74Z" fill="#0000ff"/>
<text x="353.3" y="47.60" font-size="9.55" font-family="Liberation Serif, serif" fill="#111">500K</text>
<path d="M337.50 53.05L340.35 55.90L337.50 58.75L334.65 55.90Z" fill="#00ffff"/>
<text x="353.3" y="59.20" font-size="9.55" font-family="Liberation Serif, serif" fill="#111">520K</text>
<path d="M335.15 67.50L339.06 64.86L339.06 70.14Z" fill="#ff00ff"/>
<text x="353.3" y="70.80" font-size="9.55" font-family="Liberation Serif, serif" fill="#111">540K</text>
<path d="M339.85 79.10L335.94 76.45L335.94 81.74Z" fill="#ffff00"/>
<text x="353.3" y="82.40" font-size="9.55" font-family="Liberation Serif, serif" fill="#111">560K</text>
<circle cx="337.50" cy="90.70" r="2.42" fill="#808000"/>
<text x="353.3" y="94.00" font-size="9.55" font-family="Liberation Serif, serif" fill="#111">580K</text>
<path d="M337.50 99.75L338.42 101.33L340.21 101.72L338.99 103.08L339.18 104.91L337.50 104.17L335.82 104.91L336.01 103.08L334.79 101.72L336.58 101.33Z" fill="#000080"/>
<text x="353.3" y="105.60" font-size="9.55" font-family="Liberation Serif, serif" fill="#111">600K</text>
<path d="M337.50 111.63L340.04 113.48L339.07 116.46L335.93 116.46L334.96 113.48Z" fill="#800080"/>
<text x="353.3" y="117.20" font-size="9.55" font-family="Liberation Serif, serif" fill="#111">620K</text>
<circle cx="337.50" cy="125.50" r="2.42" fill="url(#sph)"/>
<text x="353.3" y="128.80" font-size="9.55" font-family="Liberation Serif, serif" fill="#111">640K</text>
<line x1="325.5" y1="137.10" x2="349.8" y2="137.10" stroke="#000" stroke-width="1"/>
<text x="353.4" y="140.40" font-size="9.45" font-family="Liberation Serif, serif" fill="#111">linear fit</text>
<text y="256" font-size="10.4" font-family="Liberation Serif, serif" font-weight="bold" fill="#333"><tspan x="177.0">ln</tspan><tspan x="187.9" font-style="italic" letter-spacing="1.1">(ω)</tspan><tspan x="207.3">(rad s</tspan><tspan x="233.3" y="251.6" font-size="6.2" font-weight="normal" stroke="#262626" stroke-width="0.15">-1</tspan><tspan x="238.9" y="256" font-weight="normal" stroke="#262626" stroke-width="0.3">)</tspan></text>
<text transform="translate(12.8,166.5) rotate(-90)" font-family="Liberation Serif, Times New Roman, serif" font-weight="normal" fill="#111" stroke="#111" stroke-width="0.15"><tspan x="-0.2" y="0" font-size="10.6">ln</tspan><tspan x="11.1" y="0" font-size="10.6">(</tspan><tspan x="14.7" y="0" font-size="11.8">σ</tspan><tspan x="22.4" y="3.0" font-size="6.2" stroke-width="0.1">ac</tspan><tspan x="27.5" y="0" font-size="10.6">-</tspan><tspan x="30.0" y="0" font-size="11.8">σ</tspan><tspan x="38.4" y="3.0" font-size="6.2" stroke-width="0.1">dc</tspan><tspan x="44.8" y="0" font-size="10.6">)</tspan><tspan x="51.7" y="0" font-size="10.6">(</tspan><tspan x="55.6" y="0" font-size="11.2">Ω</tspan><tspan x="64.0" y="-6.2" font-size="6.2" stroke-width="0.1">-1</tspan><tspan x="69.5" y="0" font-size="10.6">cm</tspan><tspan x="82.6" y="-6.2" font-size="6.2" stroke-width="0.1">-1</tspan><tspan x="88.8" y="0" font-size="10.6">)</tspan></text>
</svg>
</body></html>
